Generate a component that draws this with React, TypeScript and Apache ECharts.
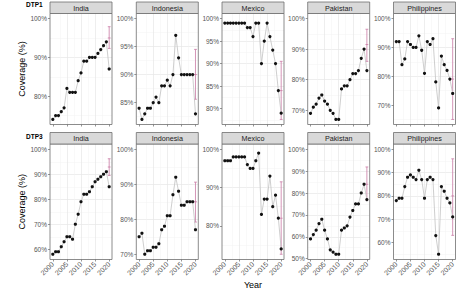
import React, { useEffect, useRef } from "react";
import * as echarts from "echarts";

// ---------- data ----------
const years = [2000, 2001, 2002, 2003, 2004, 2005, 2006, 2007, 2008, 2009, 2010, 2011, 2012, 2013, 2014, 2015, 2016, 2017, 2018, 2019, 2020];
const countries = ["India", "Indonesia", "Mexico", "Pakistan", "Philippines"];
const rowTitles = ["DTP1", "DTP3"];
const yAxisTitle = "Coverage (%)";
const xAxisTitle = "Year";
const xTicks = [2000, 2005, 2010, 2015, 2020];

const dtp1India = [74, 75, 75, 76, 77, 82, 81, 81, 81, 84, 86, 89, 89, 90, 90, 90, 91, 92, 93, 94, 87];
const dtp1Indonesia = [84, 82, 83, 84, 84, 85, 86, 85, 88, 88, 89, 88, 90, 97, 93, 90, 90, 90, 90, 90, 83];
const dtp1Mexico = [99, 99, 99, 99, 99, 99, 99, 99, 98, 98, 96, 99, 99, 90, 95, 99, 96, 93, 90, 84, 79];
const dtp1Pakistan = [69, 71, 72, 74, 75, 73, 72, 70, 69, 67, 67, 77, 78, 78, 80, 82, 82, 83, 87, 90, 83];
const dtp1Philippines = [92, 92, 84, 86, 92, 91, 90, 90, 94, 89, 81, 92, 91, 93, 78, 69, 87, 84, 82, 79, 74];

const dtp3India = [58, 59, 59, 61, 63, 65, 65, 64, 70, 74, 79, 82, 82, 83, 85, 87, 88, 89, 90, 91, 85];
const dtp3Indonesia = [75, 76, 70, 71, 71, 72, 72, 73, 77, 78, 81, 81, 87, 92, 88, 84, 84, 85, 85, 85, 77];
const dtp3Mexico = [97, 97, 97, 98, 98, 98, 98, 98, 96, 95, 95, 97, 99, 83, 87, 87, 93, 85, 88, 82, 74];
const dtp3Pakistan = [59, 61, 63, 66, 68, 63, 59, 54, 53, 52, 52, 63, 64, 65, 69, 72, 75, 75, 80, 84, 77];
const dtp3Philippines = [78, 79, 79, 84, 88, 89, 88, 87, 91, 87, 79, 87, 88, 87, 63, 55, 84, 82, 79, 77, 71];

// 2020 interval per country: [low, middle, high]
const dtp1Errors = [
  [92.3, 95, 97.9],
  [85.6, 90, 94.5],
  [77.6, 84, 90.5],
  [86, 91.5, 96.5],
  [65, 79, 93],
];
const dtp3Errors = [
  [89.5, 92.9, 96.2],
  [79.2, 85, 90.6],
  [72.6, 82, 91.5],
  [76.8, 84, 91.9],
  [63.1, 80, 95.9],
];
const errorYear = 2020;

const dtp1YTicks = [[80, 90, 100], [85, 90, 95, 100], [80, 85, 90, 95, 100], [70, 80, 90, 100], [70, 80, 90, 100]];
const dtp3YTicks = [[60, 70, 80, 90, 100], [70, 80, 90, 100], [80, 90, 100], [50, 60, 70, 80, 90, 100], [60, 70, 80, 90, 100]];

const rowsData = [
  [dtp1India, dtp1Indonesia, dtp1Mexico, dtp1Pakistan, dtp1Philippines],
  [dtp3India, dtp3Indonesia, dtp3Mexico, dtp3Pakistan, dtp3Philippines],
];
const rowsErrors = [dtp1Errors, dtp3Errors];
const rowsYTicks = [dtp1YTicks, dtp3YTicks];

// ---------- layout / style ----------
const FONT = "'Liberation Sans', Arial, Helvetica, sans-serif";
const PANEL_LEFT = [50, 136.3, 222, 307.7, 393.5];
const PANEL_W = 62;
const PLOT_TOP = [13.5, 144];
const PLOT_H = [111, 115.5];
const STRIP_H = 11.5;
const BORDER = "#6e6e6e";
const TICK_COLOR = "#4d4d4d";
const LABEL_COLOR = "#555555";
const GRID_MAJOR = "#e6e6e6";
const GRID_MINOR = "#f2f2f2";
const LINE_COLOR = "#c2c2c2";
const ERR_COLOR = "#c97aa4";

function yRange(vals: number[], err: number[]): [number, number] {
  const lo = Math.min(...vals, err[0]);
  const hi = Math.max(100, ...vals, err[2]);
  const pad = (hi - lo) * 0.05;
  return [lo - pad, hi + pad];
}

function buildOption() {
  const grid: any[] = [];
  const xAxis: any[] = [];
  const yAxis: any[] = [];
  const series: any[] = [];
  const graphic: any[] = [];

  for (let r = 0; r < 2; r++) {
    for (let c = 0; c < 5; c++) {
      const idx = r * 5 + c;
      const vals = rowsData[r][c];
      const err = rowsErrors[r][c];
      const ticks = rowsYTicks[r][c];
      const [ymin, ymax] = yRange(vals, err);
      const interval = ticks[1] - ticks[0];
      const left = PANEL_LEFT[c];
      const top = PLOT_TOP[r];
      const h = PLOT_H[r];

      grid.push({
        left, top, width: PANEL_W, height: h,
        show: false, containLabel: false, outerBoundsMode: "none",
      });
      xAxis.push({
        gridIndex: idx, type: "value", min: 1999, max: 2021,
        minInterval: 5, maxInterval: 5,
        axisLine: { show: false },
        axisTick: { show: true, length: 2, lineStyle: { color: TICK_COLOR, width: 0.6 }, customValues: xTicks },
        axisLabel: {
          show: r === 1, customValues: xTicks, rotate: 45, fontSize: 7, color: LABEL_COLOR,
          fontFamily: FONT, margin: 3.5, formatter: (v: number) => String(v),
        },
        splitLine: { show: true, showMinLine: false, showMaxLine: false, lineStyle: { color: GRID_MAJOR, width: 0.7 } },
        minorTick: { show: false, splitNumber: 2 },
        minorSplitLine: { show: true, lineStyle: { color: GRID_MINOR, width: 0.5 } },
      });
      yAxis.push({
        gridIndex: idx, type: "value", min: ymin, max: ymax,
        minInterval: interval, maxInterval: interval,
        axisLine: { show: false },
        axisTick: { show: true, length: 2, lineStyle: { color: TICK_COLOR, width: 0.6 }, customValues: ticks },
        axisLabel: {
          customValues: ticks, formatter: (v: number) => `${v}%`, fontSize: 6.5, color: LABEL_COLOR,
          fontFamily: FONT, margin: 3,
        },
        splitLine: { show: true, showMinLine: false, showMaxLine: false, lineStyle: { color: GRID_MAJOR, width: 0.7 } },
        minorTick: { show: false, splitNumber: 2 },
        minorSplitLine: { show: true, lineStyle: { color: GRID_MINOR, width: 0.5 } },
      });
      series.push({
        type: "custom", xAxisIndex: idx, yAxisIndex: idx, z: 2,
        data: [[errorYear, err[0], err[1], err[2]]],
        encode: { x: 0, y: [1, 2, 3] },
        renderItem: (_p: any, api: any) => {
          const x = api.value(0);
          const lo = api.coord([x, api.value(1)]);
          const mid = api.coord([x, api.value(2)]);
          const hi = api.coord([x, api.value(3)]);
          const w = 1.4;
          const style = { stroke: ERR_COLOR, lineWidth: 0.8 };
          const cap = (p: number[]) => ({ type: "line", shape: { x1: p[0] - w, y1: p[1], x2: p[0] + w, y2: p[1] }, style });
          return {
            type: "group",
            children: [
              { type: "line", shape: { x1: lo[0], y1: lo[1], x2: hi[0], y2: hi[1] }, style },
              cap(lo), cap(mid), cap(hi),
            ],
          };
        },
      });
      series.push({
        type: "line", xAxisIndex: idx, yAxisIndex: idx, z: 3,
        data: years.map((y, k) => [y, vals[k]]),
        symbol: "circle", symbolSize: 3.2, showSymbol: true,
        itemStyle: { color: "#111111" },
        lineStyle: { color: LINE_COLOR, width: 0.8 },
      });

      // panel border
      graphic.push({
        type: "rect", z: 100, silent: true,
        shape: { x: left, y: top, width: PANEL_W, height: h },
        style: { fill: "none", stroke: BORDER, lineWidth: 0.8 },
      });
      // strip
      graphic.push({
        type: "rect", z: 100, silent: true,
        shape: { x: left, y: top - STRIP_H, width: PANEL_W, height: STRIP_H },
        style: { fill: "#d9d9d9", stroke: BORDER, lineWidth: 0.8 },
      });
      graphic.push({
        type: "text", z: 101, silent: true,
        x: left + PANEL_W / 2, y: top - STRIP_H / 2 + 0.3,
        style: {
          text: countries[c], fill: "#222222", font: `7.2px ${FONT}`,
          textAlign: "center", textVerticalAlign: "middle", align: "center", verticalAlign: "middle",
        },
      });
    }
    // row title
    graphic.push({
      type: "text", z: 101, silent: true,
      x: 26, y: r === 0 ? 4.5 : 136,
      style: {
        text: rowTitles[r], fill: "#000", font: `bold 6.5px ${FONT}`,
        textAlign: "left", textVerticalAlign: "middle", align: "left", verticalAlign: "middle",
      },
    });
    // y axis title
    graphic.push({
      type: "text", z: 101, silent: true,
      x: 22, y: PLOT_TOP[r] + PLOT_H[r] / 2, rotation: Math.PI / 2,
      style: {
        text: yAxisTitle, fill: "#000", font: `9px ${FONT}`,
        textAlign: "center", textVerticalAlign: "middle", align: "center", verticalAlign: "middle",
      },
    });
  }
  graphic.push({
    type: "text", z: 101, silent: true,
    x: PANEL_LEFT[2] + PANEL_W / 2, y: 284.5,
    style: {
      text: xAxisTitle, fill: "#000", font: `9px ${FONT}`,
      textAlign: "center", textVerticalAlign: "middle", align: "center", verticalAlign: "middle",
    },
  });

  return {
    animation: false,
    backgroundColor: "#ffffff",
    textStyle: { fontFamily: FONT },
    grid, xAxis, yAxis, series, graphic,
  };
}

export default function App() {
  const ref = useRef<HTMLDivElement>(null);
  useEffect(() => {
    document.body.style.margin = "0";
    if (!ref.current) return;
    const chart = echarts.init(ref.current, undefined, { renderer: "svg" });
    chart.setOption(buildOption() as any);
    return () => chart.dispose();
  }, []);
  return <div ref={ref} style={{ width: 474, height: 296 }} />;
}
